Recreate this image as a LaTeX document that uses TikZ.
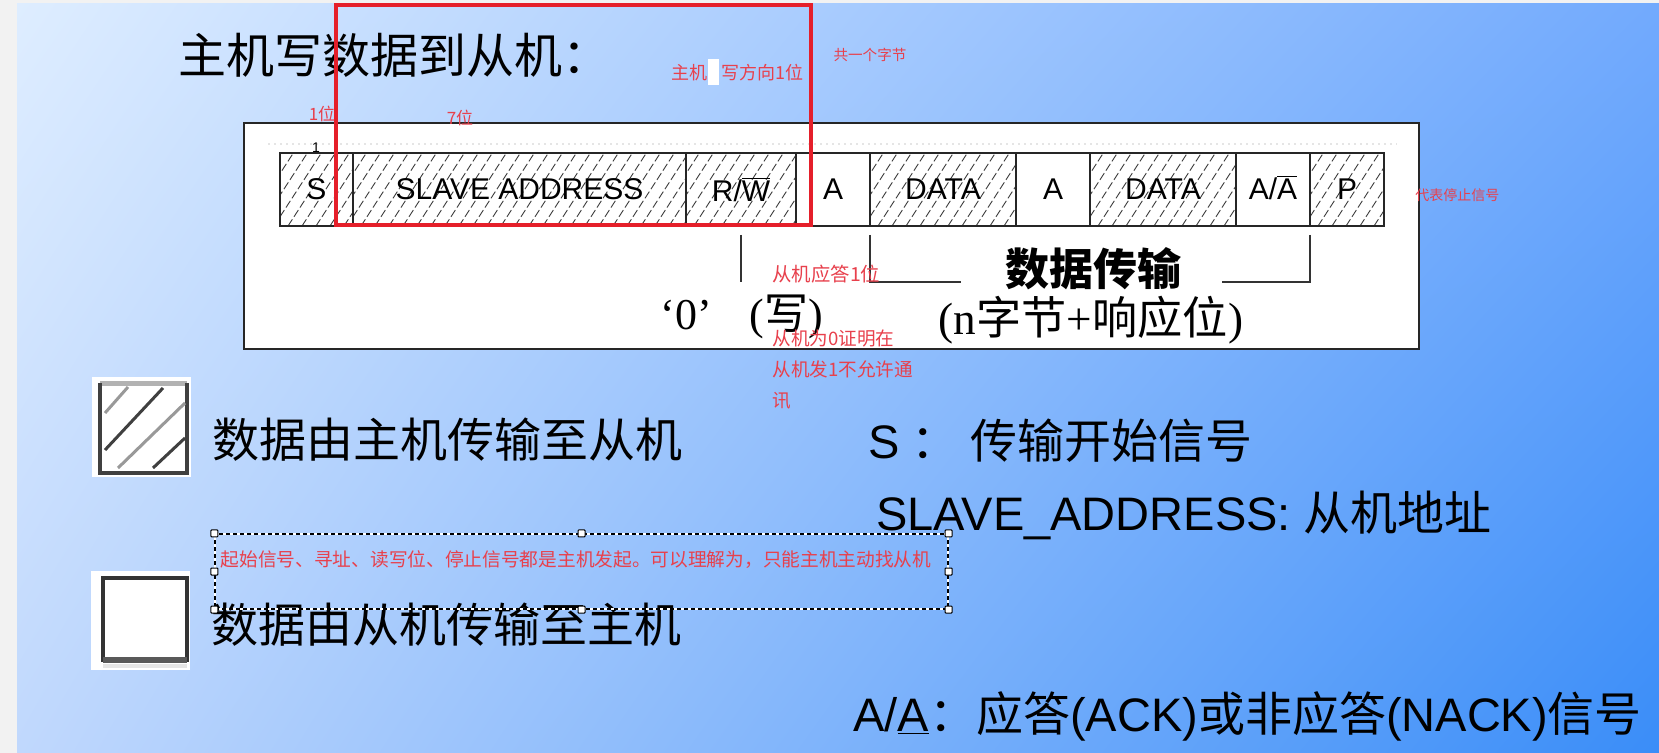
\documentclass[tikz,border=0pt]{standalone}
\usepackage{fontspec}
\setmainfont{Liberation Sans}
\newfontfamily\cjk{Noto Sans CJK SC}
\newfontfamily\romanEn{Liberation Serif}
\usepackage{xcolor}
\definecolor{pageGrey}{HTML}{F2F2F2}
\definecolor{slideTL}{HTML}{DEEDFF}
\definecolor{slideTR}{HTML}{72AAFD}
\definecolor{slideBL}{HTML}{C0D8FD}
\definecolor{slideBR}{HTML}{3A8DF8}
\definecolor{markRed}{HTML}{E51F2A}
\definecolor{noteRed}{HTML}{E8404C}
\definecolor{hatchGrey}{HTML}{3C3C3C}
\usetikzlibrary{positioning,calc,shadings}
\tikzset{%
  field/.style={%
    rectangle,
    draw=black!85,
    line width=0.8pt,
    minimum height=36.5pt,
    inner sep=0pt,
    outer sep=0pt,
    font=\fontsize{15}{18}\selectfont
  },
  hatchline/.style={%
    hatchGrey,
    line width=0.45pt,
    dash pattern=on 4pt off 1.5pt
  },
  hatched/.style={%
    field,
    path picture={%
      \foreach \k in {0,...,28}
        \draw[hatchline] ([xshift=\k*7pt-24pt]path picture bounding box.south west) -- ++(24pt,37pt);
    }
  },
  frameBox/.style={%
    draw=black!85,
    fill=white,
    line width=0.8pt,
    inner sep=0pt
  },
  bracketLine/.style={%
    black!80,
    line width=0.7pt
  },
  note/.style={%
    text=noteRed,
    inner sep=0pt,
    font=\cjk\fontsize{8.5}{10}\selectfont
  },
  bigText/.style={%
    inner sep=0pt,
    font=\fontsize{23.5}{28}\selectfont
  },
  keyBack/.style={%
    fill=white,
    minimum size=49.5pt,
    inner sep=0pt
  },
  selBox/.style={%
    draw=white,
    line width=0.6pt,
    inner sep=0pt,
    postaction={draw=black, dash pattern=on 2pt off 1.5pt}
  },
  grip/.style={%
    draw=black,
    fill=white,
    line width=0.5pt,
    minimum size=3.5pt,
    inner sep=0pt,
    rounded corners=0.4pt
  }
}

\begin{document}
\begin{tikzpicture}[x=0.5pt, y=-0.5pt]
  \useasboundingbox (0,0) rectangle (1659,753);
  % slide background
  \fill[pageGrey] (0,0) rectangle (1659,753);
  \shade[upper left=slideTL, upper right=slideTR, lower left=slideBL, lower right=slideBR] (17,4) rectangle (1659,753);

  \node[bigText, font=\cjk\fontsize{24}{28}\selectfont, anchor=west] (title) at (178,55) {主机写数据到从机：};

  % frame format
  \node[frameBox, minimum width=587.5pt, minimum height=113pt, anchor=north west] (frame) at (243,122) {};
  \draw[black!10, dotted, line width=1pt] (268,144) -- (1397,144);
  \node[inner sep=0pt, font=\fontsize{7}{8}\selectfont] (one) at (316,148) {1};

  \node[hatched, minimum width=36.5pt, anchor=north west] (start) at (280,153) {S};
  \node[hatched, minimum width=166.5pt, right=0pt of start] (addr) {SLAVE ADDRESS};
  \node[hatched, minimum width=55pt, right=0pt of addr] (rw) {R/\(\overline{\hbox{W}}\)};
  \node[field, minimum width=37pt, right=0pt of rw] (ack1) {A};
  \node[hatched, minimum width=73pt, right=0pt of ack1] (data1) {DATA};
  \node[field, minimum width=37pt, right=0pt of data1] (ack2) {A};
  \node[hatched, minimum width=73pt, right=0pt of ack2] (data2) {DATA};
  \node[field, minimum width=37pt, right=0pt of data2] (ackn) {\raisebox{2pt}{A/\(\overline{\hbox{A}}\)}};
  \node[hatched, minimum width=37pt, right=0pt of ackn] (stop) {P};

  \coordinate (wLow) at (741,282);
  \coordinate (brL) at (961,282);
  \coordinate (brR) at (1222,282);
  \draw[bracketLine] ([yshift=-4.5pt]rw.south) -- (wLow);
  \draw[bracketLine] ([yshift=-4.5pt]data1.south west) |- (brL);
  \draw[bracketLine] ([yshift=-4.5pt]ackn.south east) |- (brR);

  \node[inner sep=0pt, font=\fontsize{22}{26}\selectfont, anchor=west] (wrZero) at (660,317) {\romanEn ‘0’\hspace{19pt}(\cjk 写\romanEn)};
  \node[inner sep=0pt, font=\cjk\bfseries\fontsize{22}{26}\selectfont] (xfer) at (1093,269) {数据传输};
  \node[inner sep=0pt, font=\fontsize{22.6}{26}\selectfont] (xferN) at (1091,320) {\romanEn(n\cjk 字节\romanEn+\cjk 响应位\romanEn)};

  % marking and notes
  \draw[markRed, line width=1.6pt] (336,5) rectangle (811,225);
  \node[note, font=\cjk\fontsize{9}{10}\selectfont, anchor=west] (noteDir) at (671,72) {主机\hspace{0.5pt}{\color{white}\rule[-2.5pt]{5.5pt}{13pt}}\hspace{1pt}写方向1位};
  \node[note, font=\cjk\fontsize{7.3}{9}\selectfont] (noteByte) at (870,55) {共一个字节};
  \node[note] (noteOne) at (322,114) {1位};
  \node[note] (noteSeven) at (460,118) {7位};
  \node[note, font=\cjk\fontsize{7}{8}\selectfont, anchor=west] (noteStop) at (1415,195) {代表停止信号};
  \node[note, font=\cjk\fontsize{9.7}{11}\selectfont, anchor=west] (noteAck) at (772,274) {从机应答1位};
  \node[note, font=\cjk\fontsize{9.3}{15.5}\selectfont, anchor=north west, align=left] (noteSlave) at (772,329) {从机为0证明在\\从机发1不允许通\\讯};

  % legend
  \node[keyBack] (keyMaster) at (141.5,427) {};
  \draw[black!30, line width=2.5pt] (100,384) -- (187,384);
  \draw[black!75, line width=2pt] (100,383) -- (100,473) -- (187,473) -- (187,383);
  \draw[black!40, line width=1.5pt] (105,413) -- (128,387);
  \draw[black!75, line width=1.5pt] (105,450) -- (163,388);
  \draw[black!40, line width=1.5pt] (118,468) -- (185,403);
  \draw[black!75, line width=1.5pt] (153,468) -- (185,438);
  \node[bigText, font=\cjk\fontsize{23.5}{28}\selectfont, anchor=west] (keyMasterText) at (212,440) {数据由主机传输至从机};

  \node[keyBack] (keySlave) at (140.5,620) {};
  \draw[black!10, line width=2pt] (103,666) -- (187,666);
  \draw[black!80, line width=2pt] (103,662) -- (103,578) -- (187,578) -- (187,662);
  \draw[black!65, line width=3pt] (103,660) -- (187,660);
  \node[bigText, font=\cjk\fontsize{23.5}{28}\selectfont, anchor=west] (keySlaveText) at (211,625) {数据由从机传输至主机};

  \node[selBox, minimum width=366.5pt, minimum height=37.5pt] (sel) at (581.5,571.5) {};
  \foreach \a in {north west,north,north east,east,south east,south,south west,west}
    \node[grip] at (sel.\a) {};
  \node[note, font=\cjk\fontsize{9.35}{12}\selectfont] (noteRule) at (576,560) {起始信号、寻址、读写位、停止信号都是主机发起。可以理解为，只能主机主动找从机};

  % signal names
  \node[bigText, anchor=west] (sigStart) at (868,441) {S\hspace{6pt}{\cjk ：}\hspace{6pt}{\cjk 传输开始信号}};
  \node[bigText, anchor=west] (sigAddr) at (876,515) {SLAVE\_ADDRESS: {\cjk 从机地址}};
  \node[bigText, anchor=west] (sigAck) at (853,716) {A/\underline{A}{\cjk ：应答}(ACK){\cjk 或非应答}(NACK){\cjk 信号}};
\end{tikzpicture}
\end{document}
